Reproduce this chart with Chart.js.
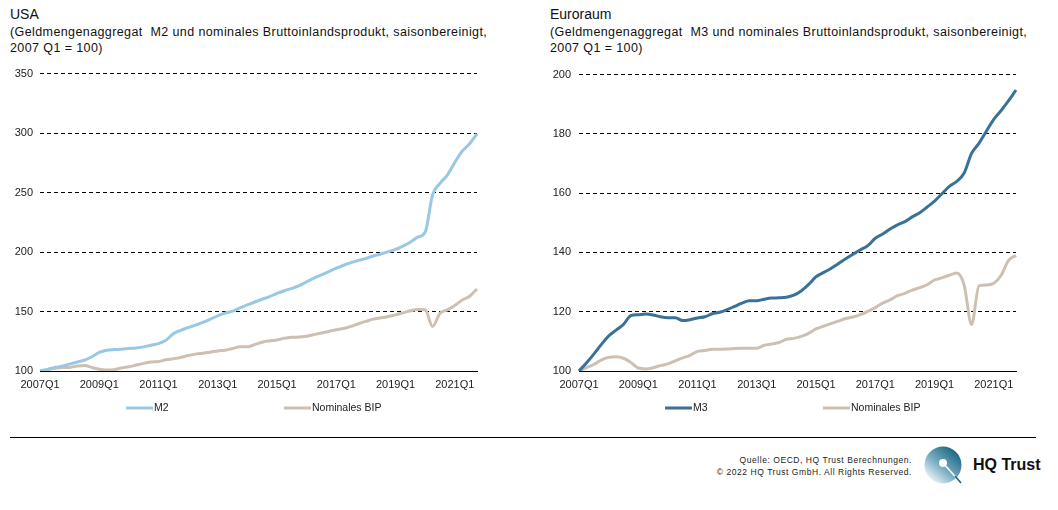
<!DOCTYPE html>
<html><head><meta charset="utf-8">
<script src="https://cdn.jsdelivr.net/npm/chart.js@4/dist/chart.umd.min.js"></script>
<style>
html,body{margin:0;padding:0;background:#fff;}
body{width:1058px;height:510px;position:relative;overflow:hidden;font-family:"Liberation Sans",Arial,sans-serif;color:#111;}
.title{position:absolute;top:6px;font-size:14px;line-height:16px;white-space:nowrap;}
.sub{position:absolute;top:24px;font-size:12.5px;line-height:16px;letter-spacing:0.4px;white-space:pre;}
canvas{position:absolute;top:60px;}
#sep{position:absolute;left:10px;top:437px;width:1026px;height:1px;background:#000;}
#foot{position:absolute;right:146px;top:454px;font-size:8.5px;line-height:12px;letter-spacing:0.55px;text-align:right;color:#222;white-space:nowrap;}
#logo{position:absolute;left:920px;top:443px;}
#brand{position:absolute;left:973px;top:455px;font-size:16px;font-weight:bold;line-height:20px;color:#111;white-space:nowrap;}
</style>
</head><body>
<div class="title" style="left:10px">USA</div>
<div class="sub" style="left:10px">(Geldmengenaggregat  M2 und nominales Bruttoinlandsprodukt, saisonbereinigt,
2007 Q1 = 100)</div>
<div class="title" style="left:550px">Euroraum</div>
<div class="sub" style="left:550px">(Geldmengenaggregat  M3 und nominales Bruttoinlandsprodukt, saisonbereinigt,
2007 Q1 = 100)</div>
<canvas id="c1" width="529" height="370" style="left:0px"></canvas>
<canvas id="c2" width="529" height="370" style="left:529px"></canvas>
<div id="sep"></div>
<div id="foot">Quelle: OECD, HQ Trust Berechnungen.<br>© 2022 HQ Trust GmbH. All Rights Reserved.</div>
<svg id="logo" width="50" height="46" viewBox="0 0 50 46">
  <defs>
    <linearGradient id="lg" x1="0.1" y1="0.95" x2="0.85" y2="0.1">
      <stop offset="0" stop-color="#ffffff"/>
      <stop offset="0.45" stop-color="#7fb0c4"/>
      <stop offset="1" stop-color="#16647f"/>
    </linearGradient>
  </defs>
  <circle cx="23" cy="22" r="18.5" fill="url(#lg)"/>
  <line x1="23" y1="20" x2="41" y2="40" stroke="#ffffff" stroke-width="1.6"/>
  <line x1="35" y1="33" x2="41" y2="40" stroke="#16647f" stroke-width="1.6"/>
  <circle cx="23" cy="20" r="4" fill="#ffffff"/>
</svg>
<div id="brand">HQ Trust</div>
<script>
const quarters = ["2007Q1","2007Q2","2007Q3","2007Q4","2008Q1","2008Q2","2008Q3","2008Q4",
"2009Q1","2009Q2","2009Q3","2009Q4","2010Q1","2010Q2","2010Q3","2010Q4",
"2011Q1","2011Q2","2011Q3","2011Q4","2012Q1","2012Q2","2012Q3","2012Q4",
"2013Q1","2013Q2","2013Q3","2013Q4","2014Q1","2014Q2","2014Q3","2014Q4",
"2015Q1","2015Q2","2015Q3","2015Q4","2016Q1","2016Q2","2016Q3","2016Q4",
"2017Q1","2017Q2","2017Q3","2017Q4","2018Q1","2018Q2","2018Q3","2018Q4",
"2019Q1","2019Q2","2019Q3","2019Q4","2020Q1","2020Q2","2020Q3","2020Q4",
"2021Q1","2021Q2","2021Q3","2021Q4"];

const usM2 = [100,101.4,103,104,105.8,107.5,109.2,112,115.6,117.5,118,118.3,118.9,119.4,120.3,121.7,
123,125.8,131.4,134.2,136.4,138.6,140.8,143.6,146.4,148.6,150.3,153,155.6,158,160.3,162.5,
165.3,167.5,169.4,171.7,175,178,180.8,183.6,186.4,188.9,191.1,193,194.7,196.7,198.3,200.3,
202.2,205,208.3,212.5,216.7,248,257.8,264.7,275.3,284.7,291,299.4];
const usBIP = [100,101.1,102.2,103,103,104.2,104.7,103,101.4,100.8,101.1,102.5,103.6,105,106.4,107.5,
108,109.4,110.3,111.4,113,114.2,115,115.8,116.9,117.5,118.9,120.3,120.3,122.2,124.2,125.3,
126.1,127.5,128.3,128.6,129.2,130.6,131.9,133.3,134.7,135.8,137.5,139.7,141.7,143.6,144.7,145.8,
147.2,148.9,150.6,151.7,151.4,137.5,148.6,151.4,155,159.7,162.8,168.9];
const euM3 = [100,102.7,105.7,108.9,111.8,113.8,115.7,118.7,119,119.2,118.9,118.3,118,118,117,117.3,
117.9,118.3,119.3,119.8,120.7,121.8,122.9,123.7,123.7,124.2,124.6,124.7,124.9,125.6,127,129.2,
131.8,133.2,134.6,136.2,137.9,139.4,140.9,142.3,144.8,146.2,147.9,149.3,150.4,152,153.4,155.3,
157.3,159.8,162.3,164,166.8,173.4,176.8,180.9,184.9,187.9,191.2,194.8];
const euBIP = [100,101.1,102.2,103.7,104.6,104.8,104.3,102.9,101,100.7,101.1,101.8,102.4,103.4,104.4,105.3,
106.6,106.9,107.3,107.3,107.4,107.6,107.7,107.7,107.7,108.7,109.1,109.6,110.7,111,111.7,112.7,
114.2,115.1,116,116.8,117.7,118.2,119,120.1,121.4,122.9,124,125.4,126.2,127.3,128.1,129.1,
130.7,131.4,132.3,133.1,129,115.7,128.7,129,129.6,132.3,137.3,139];

const usTicks = [100,150,200,250,300,350];
const euTicks = [100,120,140,160,180,200];

const FONT = '"Liberation Sans", Arial, sans-serif';
const legendOffsets = [86, 244];
const lineLegend = {
  id: 'lineLegend',
  afterDraw(chart) {
    const {ctx, chartArea} = chart;
    const y = chartArea.bottom + 37;
    ctx.save();
    chart.data.datasets.forEach((ds, i) => {
      const x = chartArea.left + legendOffsets[i];
      ctx.strokeStyle = ds.borderColor;
      ctx.lineWidth = 3;
      ctx.beginPath(); ctx.moveTo(x, y); ctx.lineTo(x + 27, y); ctx.stroke();
      ctx.fillStyle = '#222';
      ctx.font = '10.5px ' + FONT;
      ctx.textBaseline = 'middle';
      ctx.textAlign = 'left';
      ctx.fillText(ds.label, x + 28, y);
    });
    ctx.restore();
  }
};

function makeChart(id, m, mLabel, mColor, bip, tickVals, axisW, tickPad, padRight) {
  return new Chart(document.getElementById(id), {
    type: 'line',
    data: {
      labels: quarters,
      datasets: [
        {label: mLabel, data: m, borderColor: mColor, borderWidth: 3, pointRadius: 0, cubicInterpolationMode: 'monotone', fill: false},
        {label: 'Nominales BIP', data: bip, borderColor: '#cdc0b2', borderWidth: 3, pointRadius: 0, cubicInterpolationMode: 'monotone', fill: false}
      ]
    },
    options: {
      responsive: false,
      animation: false,
      devicePixelRatio: 1,
      layout: {padding: {top: 10, left: 0, right: padRight, bottom: 39}},
      plugins: {legend: {display: false}, tooltip: {enabled: false}, title: {display: false}},
      scales: {
        x: {
          grid: {display: false, drawTicks: false},
          border: {display: true, color: '#000', width: 1},
          afterFit: s => { s.height = 20; },
          ticks: {
            autoSkip: false, maxRotation: 0, minRotation: 0, padding: 7,
            color: '#222', font: {family: FONT, size: 11},
            callback: function(v, i) { return i % 8 === 0 ? quarters[i] : null; }
          }
        },
        y: {
          min: tickVals[0], max: tickVals[tickVals.length - 1],
          afterFit: s => { s.width = axisW; },
          afterBuildTicks: s => { s.ticks = tickVals.map(v => ({value: v})); },
          grid: {color: '#000', lineWidth: 1, drawTicks: false},
          border: {display: false, dash: [4, 3]},
          ticks: {padding: tickPad, color: '#222', font: {family: FONT, size: 11}}
        }
      }
    },
    plugins: [lineLegend]
  });
}

makeChart('c1', usM2, 'M2', '#98c8e2', usBIP, usTicks, 40, 7, 52);
makeChart('c2', euM3, 'M3', '#3a7196', euBIP, euTicks, 50, 8, 42);
</script>
</body></html>
